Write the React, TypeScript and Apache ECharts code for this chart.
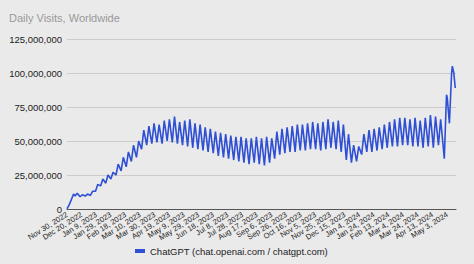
import React, { useEffect, useRef } from "react";
import * as echarts from "echarts";

// Day offsets are counted from Nov 30, 2022. Values in millions of daily visits.
const START_UTC = Date.UTC(2022, 10, 30);
const MONTHS = ["Jan", "Feb", "Mar", "Apr", "May", "Jun", "Jul", "Aug", "Sep", "Oct", "Nov", "Dec"];

const rampDays = [0, 3, 6, 9];
const rampValues = [0.2, 3, 7, 11];

// weekly lows (Sundays, first at day 11) and highs (Wednesdays, first at day 14)
const FIRST_LOW_DAY = 11;
const FIRST_HIGH_DAY = 14;
const weeklyLows = [
  9.5, 9, 9.5, 10, 13, 17, 19, 22, 25, 28,
  31, 35, 38, 44, 47, 48, 49, 48, 50, 49,
  48, 47, 46, 45, 44, 43, 42, 41, 39, 38,
  37, 36, 35, 34, 33, 34, 33, 32, 34, 37,
  40, 41, 42, 42, 43, 43, 44, 44, 43, 44,
  45, 44, 42, 36, 34, 35, 40, 42, 42, 43,
  44, 45, 46, 46, 47, 47, 46, 46, 45, 46,
  45, 47,
];
const weeklyHighs = [
  11.5, 10.5, 11, 13, 18, 22, 25, 27, 33, 38,
  42, 47, 50, 58, 61, 63, 62, 65, 66, 68,
  64, 65, 66, 63, 62, 60, 59, 57, 56, 55,
  54, 53, 53, 52, 52, 53, 52, 53, 52, 57,
  59, 60, 61, 62, 62, 63, 64, 63, 64, 66,
  64, 65, 62, 55, 47, 46, 55, 58, 59, 60,
  62, 64, 66, 67, 67, 66, 67, 65, 67, 69,
  68, 66,
];

const tailDays = [516, 519, 520, 523, 526, 527, 529, 531];
const tailValues = [37, 84, 82, 63, 100, 105, 100, 89];

const X_MAX_DAY = 532;
const LABEL_EVERY_DAYS = 20;
const Y_MAX = 125000000;
const Y_STEP = 25000000;

const seriesName = "ChatGPT (chat.openai.com / chatgpt.com)";

function dayLabel(d: number): string {
  const dt = new Date(START_UTC + d * 86400000);
  return `${MONTHS[dt.getUTCMonth()]} ${dt.getUTCDate()}, ${dt.getUTCFullYear()}`;
}

const dayCategories = Array.from({ length: X_MAX_DAY + 1 }, (_, d) => dayLabel(d));

function buildPoints(): [number, number][] {
  const pts: [number, number][] = [];
  rampDays.forEach((d, i) => pts.push([d, rampValues[i] * 1e6]));
  weeklyLows.forEach((v, w) => {
    pts.push([FIRST_LOW_DAY + 7 * w, v * 1e6]);
    pts.push([FIRST_HIGH_DAY + 7 * w, weeklyHighs[w] * 1e6]);
  });
  tailDays.forEach((d, i) => pts.push([d, tailValues[i] * 1e6]));
  return pts;
}

export default function App() {
  const ref = useRef<HTMLDivElement>(null);
  useEffect(() => {
    if (!ref.current) return;
    const chart = echarts.init(ref.current, undefined, { renderer: "svg" });
    chart.setOption({
      animation: false,
      backgroundColor: "#eaeaea",
      textStyle: { fontFamily: "Liberation Sans, Arial, sans-serif" },
      title: {
        text: "Daily Visits, Worldwide",
        left: 9,
        top: 12,
        padding: 0,
        textStyle: { fontSize: 11, fontWeight: "normal", color: "#999999" },
      },
      grid: { left: 67, right: 18, top: 39, bottom: 55, containLabel: false },
      legend: {
        left: 135,
        top: 246,
        padding: 0,
        icon: "rect",
        itemWidth: 10,
        itemHeight: 4,
        itemGap: 5,
        textStyle: { fontSize: 9.5, color: "#222222" },
        data: [seriesName],
      },
      xAxis: {
        type: "category",
        data: dayCategories,
        boundaryGap: false,
        axisLine: { show: true, onZero: false, lineStyle: { color: "#555555", width: 1 } },
        axisTick: { show: false },
        splitLine: { show: false },
        axisLabel: {
          interval: 0,
          rotate: 32,
          margin: 5,
          fontSize: 7.6,
          color: "#222222",
          formatter: (v: string, idx: number) => (idx % LABEL_EVERY_DAYS === 0 ? v : ""),
        },
      },
      yAxis: {
        type: "value",
        min: 0,
        max: Y_MAX,
        interval: Y_STEP,
        axisLine: { show: false },
        axisTick: { show: false },
        splitLine: { lineStyle: { color: "#cccccc", width: 1 } },
        axisLabel: {
          margin: 5,
          fontSize: 9.5,
          color: "#222222",
          formatter: (v: number) => v.toLocaleString("en-US"),
        },
      },
      series: [
        {
          name: seriesName,
          type: "line",
          data: buildPoints(),
          showSymbol: false,
          symbol: "none",
          lineStyle: { color: "#2f4fd4", width: 1.6 },
          itemStyle: { color: "#2f4fd4" },
        },
      ],
    });
    return () => chart.dispose();
  }, []);
  return (
    <div
      ref={ref}
      style={{ position: "fixed", left: 0, top: 0, width: 474, height: 264, background: "#eaeaea" }}
    />
  );
}
